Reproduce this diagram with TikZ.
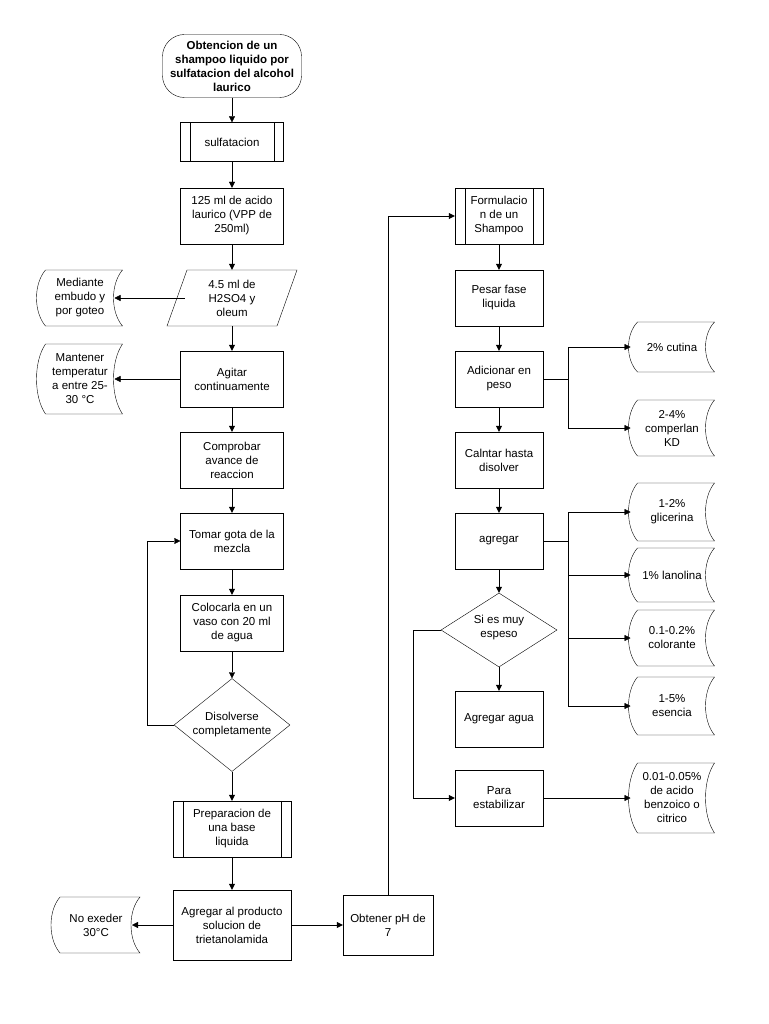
\documentclass[tikz,border=0pt]{standalone}
\usepackage{fontspec}
\setmainfont{Liberation Sans}
\usetikzlibrary{shapes.geometric,arrows.meta}
\begin{document}
\begin{tikzpicture}[x=1pt,y=-1pt,
  every node/.style={font=\fontsize{11.5}{14}\selectfont, align=center},
  box/.style={draw, minimum width=103, minimum height=56, inner sep=2},
  dia/.style={draw, diamond, aspect=1.25, inner sep=0},
  arr/.style={-{Triangle[length=6,width=6]}}]
\useasboundingbox (0,0) rectangle (768,1024);
\newcommand{\stored}[6]{% name,cx,cy,w,h,text
  \node (#1) at (#2,#3) {#6};
  \draw ({#2-#4/2+8},{#3-#5/2}) -- ({#2+#4/2},{#3-#5/2})
     .. controls ({#2+#4/2-12},{#3-#5/4}) and ({#2+#4/2-12},{#3+#5/4}) .. ({#2+#4/2},{#3+#5/2})
     -- ({#2-#4/2+8},{#3+#5/2})
     .. controls ({#2-#4/2-4},{#3+#5/4}) and ({#2-#4/2-4},{#3-#5/4}) .. ({#2-#4/2+8},{#3-#5/2});
  \coordinate (#1w) at ({#2-#4/2+1},#3);
  \coordinate (#1e) at ({#2+#4/2-8},#3);}
\newcommand{\predef}[5]{% name,cx,cy,w,text
  \node[box, minimum width=#4] (#1) at (#2,#3) {#5};
  \draw ([xshift=10]#1.north west) -- ([xshift=10]#1.south west);
  \draw ([xshift=-10]#1.north east) -- ([xshift=-10]#1.south east);}
% left column
\node[draw, rounded corners=22, minimum width=139, minimum height=63, font=\bfseries\fontsize{11.5}{14}\selectfont, inner sep=1] (t) at (232,66) {Obtencion de un\\shampoo liquido por\\sulfatacion del alcohol\\laurico};
\node[draw, minimum width=103, minimum height=39] (s) at (232,142) {sulfatacion};
\draw ([xshift=10]s.north west) -- ([xshift=10]s.south west);
\draw ([xshift=-10]s.north east) -- ([xshift=-10]s.south east);
\node[box] (a1) at (232,216) {125 ml de acido\\laurico (VPP de\\250ml)};
\node[minimum width=110, minimum height=56] (p) at (232,298) {4.5 ml de\\H2SO4 y\\oleum};
\draw (187,270) -- (297,270) -- (277,326) -- (167,326) -- cycle;
\stored{m1}{80}{298}{85}{56}{Mediante\\embudo y\\por goteo}
\node[box] (ag) at (232,379) {Agitar\\continuamente};
\stored{m2}{80}{379}{85}{70}{Mantener\\temperatur\\a entre 25-\\30 °C}
\node[box] (c) at (232,460) {Comprobar\\avance de\\reaccion};
\node[box] (tg) at (232,541) {Tomar gota de la\\mezcla};
\node[box] (co) at (232,623) {Colocarla en un\\vaso con 20 ml\\de agua};
\node[dia, minimum width=116, minimum height=93] (d1) at (232,725) {};
\node at (232,725) {Disolverse\\completamente};
\predef{pr}{232}{829}{118}{Preparacion de\\una base\\liquida}
\node[draw, minimum width=118, minimum height=70] (ap) at (232,925) {Agregar al producto\\solucion de\\trietanolamida};
\stored{ne}{96}{925}{88}{56}{No exeder\\30°C}
\node[draw, minimum width=90, minimum height=60] (ph) at (388,925) {Obtener pH de\\7};
% right column
\predef{f}{499}{216}{88}{Formulacio\\n de un\\Shampoo}
\node[box, minimum width=88] (pe) at (499,298) {Pesar fase\\liquida};
\node[box, minimum width=88] (ad) at (499,379) {Adicionar en\\peso};
\stored{r1}{672}{347}{85}{50}{2\% cutina}
\stored{r2}{672}{428}{85}{56}{2-4\%\\comperlan\\KD}
\node[box, minimum width=88] (ca) at (499,460) {Calntar hasta\\disolver};
\node[box, minimum width=88] (g) at (499,541) {agregar};
\stored{g1}{672}{512}{85}{58}{1-2\%\\glicerina}
\stored{g2}{672}{575}{85}{54}{1\% lanolina}
\stored{g3}{672}{638}{85}{56}{0.1-0.2\%\\colorante}
\stored{g4}{672}{706}{85}{58}{1-5\%\\esencia}
\node[dia, minimum width=116, minimum height=74] (d2) at (499,630) {};
\node at (499,628) {Si es muy\\espeso};
\node[box, minimum width=88] (aa) at (499,719) {Agregar agua};
\node[box, minimum width=88] (es) at (499,798) {Para\\estabilizar};
\stored{e1}{672}{798}{85}{70}{0.01-0.05\%\\de acido\\benzoico o\\citrico};
% connectors
\draw[arr] (t) -- (s);
\draw[arr] (s) -- (a1);
\draw[arr] (a1) -- (p.north);
\draw[arr] (p.west) ++(8,0) -- (m1e);
\draw[arr] (p.south) -- (ag);
\draw[arr] (ag) -- (m2e);
\draw[arr] (ag) -- (c);
\draw[arr] (c) -- (tg);
\draw[arr] (tg) -- (co);
\draw[arr] (co) -- (d1);
\draw[arr] (d1.west) -- ++(-27,0) |- (tg.west);
\draw[arr] (d1) -- (pr);
\draw[arr] (pr) -- (ap);
\draw[arr] (ap) -- (nee);
\draw[arr] (ap) -- (ph);
\draw[arr] (ph.north) |- (f.west);
\draw[arr] (f) -- (pe);
\draw[arr] (pe) -- (ad);
\draw[arr] (ad.east) -- ++(25,0) coordinate (b1) |- (r1w);
\draw[arr] (b1) |- (r2w);
\draw[arr] (ad) -- (ca);
\draw[arr] (ca) -- (g);
\draw (g.east) -- ++(25,0) coordinate (b2);
\draw[arr] (b2) |- (g1w);
\draw[arr] (b2) |- (g2w);
\draw[arr] (b2) |- (g3w);
\draw[arr] (b2) |- (g4w);
\draw[arr] (g) -- (d2);
\draw[arr] (d2) -- (aa);
\draw[arr] (d2.west) -- ++(-28,0) |- (es.west);
\draw[arr] (es) -- (e1w);
\end{tikzpicture}
\end{document}
